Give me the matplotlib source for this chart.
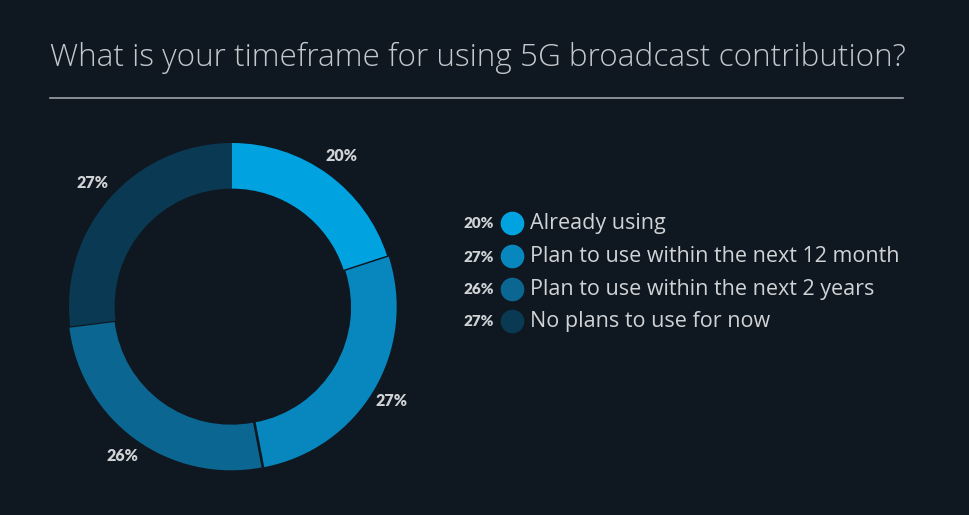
import matplotlib
matplotlib.use("Agg")
import matplotlib.pyplot as plt
import numpy as np

# ── Data ──
title = "What is your timeframe for using 5G broadcast contribution?"
categories = ["Already using",
              "Plan to use within the next 12 month",
              "Plan to use within the next 2 years",
              "No plans to use for now"]
shares = [20, 27, 26, 27]
colors = ["#00a3e0", "#0787bd", "#0b6791", "#0a3953"]

bg = "#0f1720"
txt = "#d0d3d6"

fig = plt.figure(figsize=(9.7, 5.15), dpi=100, facecolor=bg)
W, H = 970, 515

# Title + rule
fig.text(50 / W, 1 - 58 / H, title, fontsize=22.7, family="Open Sans", weight=300,
         color="#c4c8cc", va="center", ha="left")
fig.add_artist(plt.Line2D([50 / W, 903 / W], [1 - 98 / H, 1 - 98 / H],
                          color="#9ea3a8", linewidth=1.2))

# ── Donut ──
cx, cy, R = 232, 306, 163
ax = fig.add_axes([(cx - R) / W, (H - cy - R) / H, 2 * R / W, 2 * R / H])
ax.set_facecolor(bg)
wedges, _ = ax.pie(shares, colors=colors, startangle=90, counterclock=False,
                   radius=1.0, wedgeprops=dict(width=0.28, linewidth=0),
                   explode=[0.0, 0.012, 0.01, 0.0])
ang = 90 - (np.cumsum(shares) - np.array(shares) / 2) / sum(shares) * 360
for a, s in zip(ang, shares):
    ax.text(1.14 * np.cos(np.radians(a)), 1.14 * np.sin(np.radians(a)), f"{s}%",
            ha="center", va="center", fontsize=11.5, family="Lato", weight="heavy",
            color=txt)
ax.set_xlim(-1, 1)
ax.set_ylim(-1, 1)
ax.set_aspect("equal")
ax.axis("off")

# ── Legend ──
rows_y = [223, 256, 289, 321]
lax = fig.add_axes([0, 0, 1, 1], facecolor="none")
lax.set_xlim(0, W)
lax.set_ylim(H, 0)
lax.axis("off")
for y, cat, s, c in zip(rows_y, categories, shares, colors):
    lax.text(494, y + 1, f"{s}%", ha="right", va="center", fontsize=11,
             family="Lato", weight="heavy", color=txt)
    lax.scatter([512], [y], s=290, color=c, linewidths=0)
    lax.text(530, y, cat, ha="left", va="center", fontsize=15.5,
             family="Open Sans", color=txt)

fig.savefig("out.png", dpi=100, facecolor=bg)
